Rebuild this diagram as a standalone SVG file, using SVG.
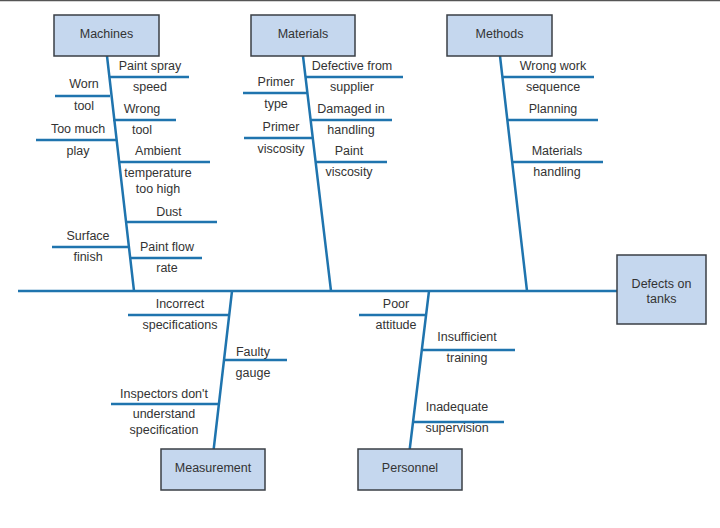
<svg xmlns="http://www.w3.org/2000/svg" width="720" height="528" viewBox="0 0 720 528">
<style>
.b{fill:#c5d7ee;stroke:#3a3f45;stroke-width:1.5}
.l{stroke:#1f74ae;stroke-width:2.5;fill:none}
text{font-family:"Liberation Sans",Arial,sans-serif;font-size:12.5px;fill:#333;text-anchor:middle}
</style>
<rect width="720" height="528" fill="#fff"/>
<line x1="0" y1="0.5" x2="720" y2="0.5" stroke="#555" stroke-width="1.5"/>
<g id="connectors" class="l">
<path d="M18 291H617"/>
<path d="M107 56L134 291M109 77H189M55 96H110M113 120H176M36 140H116M118 162H210M126 222H217M52 247H129M130 258H202"/>
<path d="M303 56L331 291M305 77H403M243 93H307M310 120H392M244 138H312M315 162H387"/>
<path d="M500 56L527 291M502 77H594M507 120H598M512 162H603"/>
<path d="M232 291L213 455M128 315H229M224 360H287M111 404H218"/>
<path d="M429 291L409 455M359 315H426M422 350H515M414 422H504"/>
</g>
<g id="machines"><rect class="b" x="54" y="15" width="105" height="41"/><text x="106.5" y="38">Machines</text></g>
<g id="materials"><rect class="b" x="251" y="15" width="104" height="41"/><text x="303" y="38">Materials</text></g>
<g id="methods"><rect class="b" x="447" y="15" width="105" height="41"/><text x="499.5" y="38">Methods</text></g>
<g id="defects"><rect class="b" x="617" y="255" width="89" height="69"/><text x="661.5" y="288">Defects on</text><text x="661.5" y="303">tanks</text></g>
<g id="measurement"><rect class="b" x="161" y="449" width="104" height="41"/><text x="213" y="472">Measurement</text></g>
<g id="personnel"><rect class="b" x="358" y="449" width="104" height="41"/><text x="410" y="472">Personnel</text></g>
<g id="labels">
<text x="150" y="70">Paint spray</text><text x="150" y="91">speed</text>
<text x="84" y="88">Worn</text><text x="84" y="110">tool</text>
<text x="142" y="113">Wrong</text><text x="142" y="134">tool</text>
<text x="78" y="133">Too much</text><text x="78" y="155">play</text>
<text x="158" y="155">Ambient</text><text x="158" y="177">temperature</text><text x="158" y="193">too high</text>
<text x="169" y="216">Dust</text>
<text x="88" y="240">Surface</text><text x="88" y="261">finish</text>
<text x="167" y="251">Paint flow</text><text x="167" y="272">rate</text>
<text x="352" y="70">Defective from</text><text x="352" y="91">supplier</text>
<text x="276" y="86">Primer</text><text x="276" y="108">type</text>
<text x="351" y="113">Damaged in</text><text x="351" y="134">handling</text>
<text x="281" y="131">Primer</text><text x="281" y="153">viscosity</text>
<text x="349" y="155">Paint</text><text x="349" y="176">viscosity</text>
<text x="553" y="70">Wrong work</text><text x="553" y="91">sequence</text>
<text x="553" y="113">Planning</text>
<text x="557" y="155">Materials</text><text x="557" y="176">handling</text>
<text x="180" y="308">Incorrect</text><text x="180" y="329">specifications</text>
<text x="253" y="356">Faulty</text><text x="253" y="377">gauge</text>
<text x="164" y="398">Inspectors don't</text><text x="164" y="418">understand</text><text x="164" y="434">specification</text>
<text x="396" y="308">Poor</text><text x="396" y="329">attitude</text>
<text x="467" y="341">Insufficient</text><text x="467" y="362">training</text>
<text x="457" y="411">Inadequate</text><text x="457" y="432">supervision</text>
</g>
</svg>
